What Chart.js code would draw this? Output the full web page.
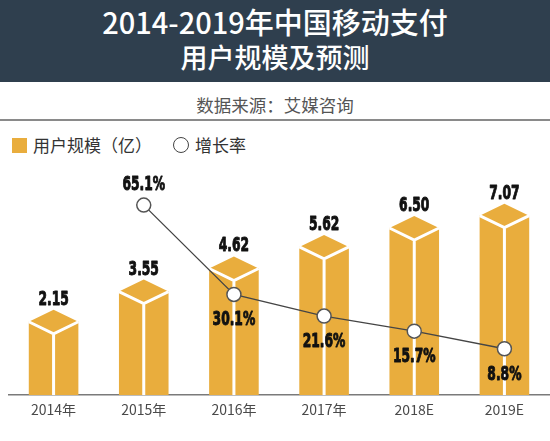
<!DOCTYPE html>
<html>
<head>
<meta charset="utf-8">
<script src="https://cdn.jsdelivr.net/npm/chart.js@4"></script>
<style>
    html, body { margin: 0; padding: 0; width: 550px; height: 441px; overflow: hidden; background: #fff; }
    body { position: relative; font-family: "Noto Sans CJK SC", "Noto Sans", sans-serif; }
    .banner { position: absolute; left: 0; top: 0; width: 550px; height: 82px; background: #2f3f4e; color: #fff; text-align: center; }
    .banner .l1 { position: absolute; left: 0; right: 0; top: 1px; font-size: 29px; line-height: 40px; font-weight: 500; }
    .banner .l2 { position: absolute; left: 0; right: 0; top: 38px; font-size: 27px; line-height: 38px; font-weight: 500; }
    .source { position: absolute; left: 0; right: 0; top: 93px; text-align: center; font-size: 17.5px; line-height: 24px; color: #555; }
    .rule { position: absolute; left: 0; top: 119px; width: 550px; height: 2px; background: #8a8a8a; }
    .legend { position: absolute; top: 133px; left: 12px; font-size: 17px; line-height: 24px; color: #333; }
    .legend .sq { position: absolute; left: 0; top: 5px; width: 15px; height: 15px; background: #e9ad3d; }
    .legend .t1 { position: absolute; left: 21px; top: 0; white-space: nowrap; }
    .legend .ci { position: absolute; left: 161px; top: 4px; width: 14px; height: 14px; border: 1.5px solid #444; border-radius: 50%; }
    .legend .t2 { position: absolute; left: 183px; top: 0; white-space: nowrap; }
    .wrap { position: absolute; left: 0; top: 160px; width: 558px; height: 281px; }
</style>
</head>
<body>
<div class="banner">
    <div class="l1">2014-2019年中国移动支付</div>
    <div class="l2">用户规模及预测</div>
</div>
<div class="source">数据来源：艾媒咨询</div>
<div class="rule"></div>
<div class="legend">
    <span class="sq"></span><span class="t1">用户规模（亿）</span>
    <span class="ci"></span><span class="t2">增长率</span>
</div>
<div class="wrap"><canvas id="chart"></canvas></div>

<script>
// chart values
const years = ['2014年', '2015年', '2016年', '2017年', '2018E', '2019E'];
const users = [2.15, 3.55, 4.62, 5.62, 6.50, 7.07];
const growth = [null, 65.1, 30.1, 21.6, 15.7, 8.8];

const barColor = '#e9ad3d';
const usersMin = -1.25;
const labelFont = 'bold 19px "DejaVu Sans Condensed", "DejaVu Sans", sans-serif';

// condensed bold label, squeezed sideways to look like the poster font
function drawLabel(ctx, text, x, y) {
    ctx.save();
    ctx.translate(x, y);
    ctx.scale(0.72, 1.04);
    ctx.fillStyle = '#111';
    ctx.strokeStyle = '#111';
    ctx.lineWidth = 0.9;
    ctx.lineJoin = 'round';
    ctx.font = labelFont;
    ctx.textAlign = 'center';
    ctx.textBaseline = 'alphabetic';
    ctx.fillText(text, 0, 0);
    ctx.strokeText(text, 0, 0);
    ctx.restore();
}

// draws the cube top and the white edges on every bar
const cubePlugin = {
    id: 'cubeTops',
    afterDatasetDraw(chart, args) {
        if (args.index !== 0) return;
        const ctx = chart.ctx;
        args.meta.data.forEach((bar, i) => {
            const { x, y, width, base } = bar.getProps(['x', 'y', 'width', 'base'], true);
            const hw = width / 2;
            const dy = 12;
            ctx.save();
            ctx.fillStyle = barColor;
            ctx.beginPath();
            ctx.moveTo(x - hw, y);
            ctx.lineTo(x, y - dy);
            ctx.lineTo(x + hw, y);
            ctx.lineTo(x, y + dy);
            ctx.closePath();
            ctx.fill();

            ctx.strokeStyle = '#fff';
            ctx.lineWidth = 3;
            ctx.beginPath();
            ctx.moveTo(x - hw, y);
            ctx.lineTo(x, y + dy);
            ctx.lineTo(x + hw, y);
            ctx.moveTo(x, y + dy);
            ctx.lineTo(x, base);
            ctx.stroke();
            ctx.restore();

            drawLabel(ctx, users[i].toFixed(2), x, y - dy - 5);
        });
    },
    afterDatasetsDraw(chart) {
        const meta = chart.getDatasetMeta(1);
        meta.data.forEach((pt, i) => {
            if (growth[i] === null) return;
            // first point has its label above, the rest below
            const off = i === 1 ? -15 : 31;
            drawLabel(chart.ctx, growth[i].toFixed(1) + '%', pt.x, pt.y + off);
        });
    }
};

new Chart(document.getElementById('chart'), {
    type: 'bar',
    data: {
        labels: years,
        datasets: [{
            type: 'bar',
            data: users,
            base: usersMin,
            backgroundColor: barColor,
            borderWidth: 0,
            categoryPercentage: 1,
            barPercentage: 0.55,
            yAxisID: 'y',
            order: 1
        }, {
            type: 'line',
            data: growth,
            borderColor: '#454545',
            borderWidth: 1.3,
            pointRadius: 7,
            pointBackgroundColor: '#fff',
            pointBorderColor: '#555',
            pointBorderWidth: 1.5,
            spanGaps: true,
            tension: 0,
            yAxisID: 'y2',
            order: 0
        }]
    },
    options: {
        responsive: true,
        maintainAspectRatio: false,
        animation: false,
        layout: { padding: 0 },
        plugins: {
            legend: { display: false },
            tooltip: { enabled: false }
        },
        scales: {
            x: {
                offset: true,
                grid: { display: false, drawTicks: false },
                border: { display: true, color: '#7a7a7a', width: 1.5 },
                ticks: {
                    color: '#4a4a4a',
                    padding: 6,
                    font: { family: '"Noto Sans CJK SC", "Noto Sans", sans-serif', size: 14 }
                },
                afterFit: (scale) => { scale.height = 46; }
            },
            y: {
                display: false,
                min: usersMin,
                max: 9.26
            },
            y2: {
                display: false,
                position: 'right',
                min: -9.33,
                max: 79.45
            }
        }
    },
    plugins: [cubePlugin]
});
</script>
</body>
</html>
